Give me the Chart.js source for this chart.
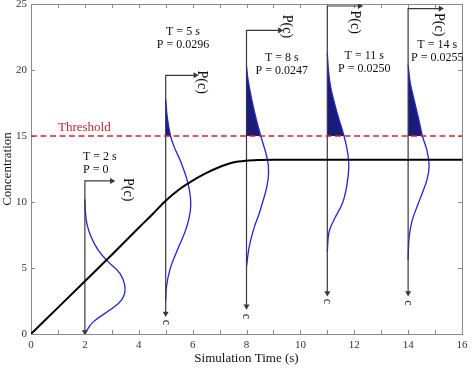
<!DOCTYPE html>
<html>
<head>
<meta charset="utf-8">
<script src="https://cdn.jsdelivr.net/npm/chart.js@4.4.1/dist/chart.umd.min.js"></script>
<style>
  html, body { margin: 0; padding: 0; background: #fff; }
  #wrap { width: 474px; height: 368px; }
</style>
</head>
<body>
<div id="wrap"><canvas id="chart"></canvas></div>
<script>
// mean concentration over time
const simTime = [0, 1, 2, 3, 4, 4.5, 5, 5.5, 6, 6.5, 7, 7.5, 8, 8.5, 9, 10, 11, 12, 13, 14, 15, 16];
const meanConc = [0, 2, 4, 6, 8.05, 9.05, 10.1, 10.95, 11.62, 12.18, 12.65, 12.99, 13.13, 13.18, 13.2, 13.2, 13.2, 13.2, 13.2, 13.2, 13.2, 13.2];

const thresholdConc = 15;
const snapTimes = [2, 5, 8, 11, 14];
const exceedProb = ['0', '0.0296', '0.0247', '0.0250', '0.0255'];

// p(c) curves: concentration level / plotted width (time units)
const pdf2Conc  = [10.2, 9.3, 8.4, 7.4, 6.4, 5.5, 4.6, 3.5, 2.6, 1.85, 0.9, 0.1];
const pdf2Width = [0, 0.02, 0.07, 0.22, 0.48, 0.85, 1.3, 1.49, 1.37, 0.95, 0.3, 0.02];
const pdf5Conc  = [17.8, 16.4, 15, 14.1, 13.2, 11.9, 10.8, 9.7, 8.7, 7.7, 6.2, 4.9, 3.6, 2.5];
const pdf5Width = [0, 0.06, 0.18, 0.33, 0.53, 0.76, 0.89, 0.93, 0.86, 0.71, 0.4, 0.16, 0.03, 0];
const pdf8Conc  = [20.3, 19.5, 18.75, 17.5, 16.2, 15, 13.2, 12.2, 11.1, 10, 9.0, 8.1, 6.6, 5.1];
const pdf8Width = [0, 0.04, 0.1, 0.22, 0.37, 0.53, 0.78, 0.82, 0.75, 0.6, 0.45, 0.29, 0.1, 0];
const pdf11Conc  = [21.3, 20, 18.75, 17.7, 16.7, 15, 13.8, 12.7, 11.2, 9.9, 8.66, 7.7, 6.2];
const pdf11Width = [0, 0.04, 0.12, 0.24, 0.37, 0.62, 0.75, 0.8, 0.72, 0.56, 0.25, 0.06, 0];
const pdf14Conc  = [20.4, 19.0, 17.75, 16.2, 15, 13.9, 12.75, 11.7, 10.7, 9.9, 8.66, 7.4, 5.6];
const pdf14Width = [0, 0.08, 0.22, 0.4, 0.53, 0.7, 0.78, 0.7, 0.53, 0.38, 0.16, 0.04, 0];

// little c / P(c) axes drawn at each snapshot
const axisTop = [11.6, 19.6, 23.0, 24.85, 24.65];
const axisBottom = [0.15, 1.55, 2.1, 3.1, 3.1];
const arrowEnd = [3.0, 6.1, 9.24, 12.2, 15.2];

const pdfConc = [pdf2Conc, pdf5Conc, pdf8Conc, pdf11Conc, pdf14Conc];
const pdfWidth = [pdf2Width, pdf5Width, pdf8Width, pdf11Width, pdf14Width];

const SERIF = "'Liberation Serif', 'Times New Roman', serif";
const NAVY = '#1b1b78';
const BLUE = '#2222e6';

const datasets = [];

datasets.push({
    label: 'mean',
    data: simTime.map((t, i) => ({ x: t, y: meanConc[i] })),
    borderColor: '#000',
    borderWidth: 2,
    pointRadius: 0,
    cubicInterpolationMode: 'monotone',
    order: 0
});

datasets.push({
    label: 'threshold',
    data: [{ x: 0, y: thresholdConc }, { x: 16, y: thresholdConc }],
    borderColor: '#e5222c',
    borderWidth: 1.5,
    borderDash: [6, 3.5],
    pointRadius: 0,
    order: 1
});

snapTimes.forEach((t, k) => {
    // axis with arrow heads
    datasets.push({
        label: 'axis' + t,
        data: [{ x: t, y: axisBottom[k] }, { x: t, y: axisTop[k] }, { x: arrowEnd[k], y: axisTop[k] }],
        borderColor: '#3a3a3a',
        borderWidth: 1.2,
        pointStyle: 'triangle',
        pointRadius: [3.5, 0, 3.5],
        pointRotation: [180, 0, 90],
        pointBackgroundColor: '#3a3a3a',
        pointBorderWidth: 0,
        tension: 0,
        order: 2
    });

    const curve = pdfConc[k].map((c, i) => ({ x: t + pdfWidth[k][i], y: c }));
    datasets.push({
        label: 'pdf' + t,
        data: curve,
        borderColor: BLUE,
        borderWidth: 1.3,
        pointRadius: 0,
        tension: 0.4,
        order: 3
    });

    const above = curve.filter(p => p.y >= thresholdConc);
    if (above.length > 1) {
        datasets.push({
            label: 'tail' + t,
            data: above.concat([{ x: t, y: thresholdConc }]),
            borderWidth: 0,
            borderColor: 'rgba(0,0,0,0)',
            backgroundColor: NAVY,
            fill: 'shape',
            pointRadius: 0,
            tension: 0,
            order: 4
        });
    }
});

// box + inward ticks
const framePlugin = {
    id: 'frame',
    beforeDatasetsDraw(chart) {
        const { ctx, chartArea: a, scales: { x, y } } = chart;
        ctx.save();
        ctx.strokeStyle = '#8a8a8a';
        ctx.lineWidth = 1;
        ctx.strokeRect(Math.round(a.left) + 0.5, Math.round(a.top) + 0.5,
            Math.round(a.right - a.left), Math.round(a.bottom - a.top));
        ctx.beginPath();
        x.ticks.forEach(tk => {
            const px = Math.round(x.getPixelForValue(tk.value)) + 0.5;
            ctx.moveTo(px, a.bottom); ctx.lineTo(px, a.bottom - 4);
            ctx.moveTo(px, a.top); ctx.lineTo(px, a.top + 4);
        });
        y.ticks.forEach(tk => {
            const py = Math.round(y.getPixelForValue(tk.value)) + 0.5;
            ctx.moveTo(a.left, py); ctx.lineTo(a.left + 4, py);
            ctx.moveTo(a.right, py); ctx.lineTo(a.right - 4, py);
        });
        ctx.stroke();
        ctx.restore();
    }
};

// text annotations
const notePlugin = {
    id: 'notes',
    afterDatasetsDraw(chart) {
        const { ctx, scales: { x, y } } = chart;
        const put = (txt, vx, vy, opts) => {
            ctx.save();
            ctx.translate(x.getPixelForValue(vx), y.getPixelForValue(vy));
            if (opts.rot) ctx.rotate(opts.rot);
            ctx.font = opts.font || ('12px ' + SERIF);
            ctx.fillStyle = opts.color || '#111';
            ctx.textAlign = opts.align || 'center';
            ctx.textBaseline = 'middle';
            ctx.fillText(txt, 0, 0);
            ctx.restore();
        };
        put('Threshold', 1.98, 15.63, { font: '13px ' + SERIF, color: '#c91f30' });

        const labelPos = [
            { x: 1.93, y: 13.43, align: 'left' },
            { x: 5.64, y: 22.9 },
            { x: 9.31, y: 20.9 },
            { x: 12.37, y: 21.08 },
            { x: 15.08, y: 21.9 }
        ];
        const pcPos = [[3.6, 10.93], [6.33, 19.08], [9.49, 23.3], [12.02, 23.62], [15.15, 23.43]];
        const cPos = [null, 0.88, 1.33, 2.47, 2.35];
        snapTimes.forEach((t, k) => {
            const lp = labelPos[k];
            put('T = ' + t + ' s', lp.x, lp.y, { align: lp.align });
            put('P = ' + exceedProb[k], lp.x, lp.y - 1.0, { align: lp.align });
            put('P(c)', pcPos[k][0], pcPos[k][1], { rot: Math.PI / 2, font: '14px ' + SERIF });
            if (cPos[k] !== null) put('c', t, cPos[k], { rot: Math.PI / 2 });
        });
    }
};

new Chart(document.getElementById('chart'), {
    type: 'line',
    data: { datasets },
    options: {
        responsive: true,
        maintainAspectRatio: false,
        animation: false,
        events: [],
        layout: { padding: { top: 4, right: 12, left: 0, bottom: 0 } },
        plugins: {
            legend: { display: false },
            tooltip: { enabled: false }
        },
        scales: {
            x: {
                type: 'linear',
                min: 0,
                max: 16,
                grid: { display: false, drawTicks: false },
                border: { display: false },
                ticks: {
                    stepSize: 1,
                    autoSkip: false,
                    maxRotation: 0,
                    padding: 5,
                    color: '#333',
                    font: { family: SERIF, size: 11 },
                    callback: v => (v % 2 === 0 ? v : '')
                },
                title: {
                    display: true,
                    text: 'Simulation Time (s)',
                    color: '#111',
                    font: { family: SERIF, size: 13 },
                    padding: { top: 0, bottom: 2 }
                },
                afterFit: s => { s.height = 34; s.paddingLeft = 0; s.paddingRight = 0; }
            },
            y: {
                min: 0,
                max: 25,
                grid: { display: false, drawTicks: false },
                border: { display: false },
                ticks: {
                    stepSize: 5,
                    padding: 4,
                    color: '#333',
                    font: { family: SERIF, size: 11 }
                },
                title: {
                    display: true,
                    text: 'Concentration',
                    color: '#111',
                    font: { family: SERIF, size: 13 },
                    padding: { top: 0, bottom: 0 }
                },
                afterFit: s => { s.width = 31; s.paddingTop = 0; s.paddingBottom = 0; }
            }
        }
    },
    plugins: [framePlugin, notePlugin]
});
</script>
</body>
</html>
